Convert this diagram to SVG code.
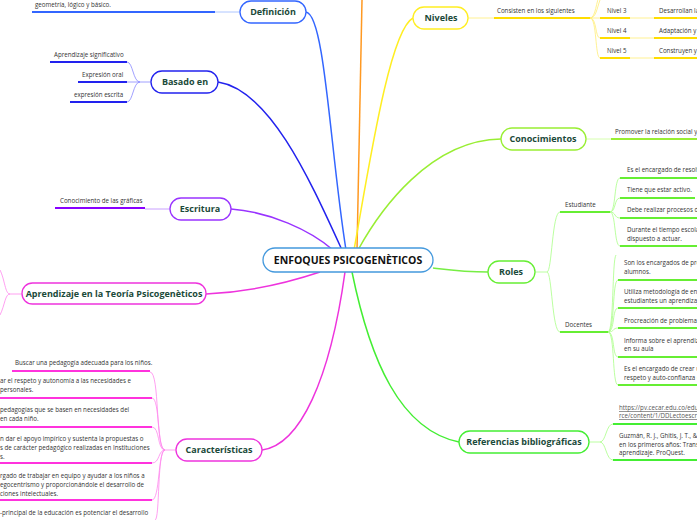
<svg xmlns="http://www.w3.org/2000/svg" width="697" height="520" viewBox="0 0 697 520">
<style>
text{font-family:"Open Sans","Noto Sans","Liberation Sans",sans-serif;fill:#333}
.t{font-size:6.2px}
.n{font-size:9px;font-weight:bold;fill:#1b4a3a;text-anchor:middle}
.b{fill:#fff;stroke-width:1.3}
.c{fill:none;stroke-width:1.5}
.th{fill:none;stroke-width:0.8}
.u{fill:none;stroke-width:2}
</style>
<rect width="697" height="520" fill="#fff"/>
<g id="connectors">
<path class="c" stroke="#ff9922" d="M357 250 C359 150 361 60 362 0"/>
<path class="c" stroke="#3366ff" d="M306 12 C325 15 330 150 346 250"/>
<path class="c" stroke="#2222ee" d="M218 82 C270 90 310 180 342 250"/>
<path class="c" stroke="#9933ff" d="M231 209 C270 212 310 230 333 250"/>
<path class="c" stroke="#ee33dd" d="M206 294 C250 292 290 282 320 272"/>
<path class="c" stroke="#ee33dd" d="M262 450 C300 445 330 380 345 272"/>
<path class="c" stroke="#ffee22" d="M413 18 C390 30 370 160 354 250"/>
<path class="c" stroke="#99ee33" d="M501 139 C430 140 380 210 358 250"/>
<path class="c" stroke="#77ee44" d="M488 272 C465 272 450 270 433 268"/>
<path class="c" stroke="#44ee33" d="M459 442 C400 430 370 360 352 272"/>
<path class="th" stroke="#99b8ff" d="M240 12 H215"/>
<path class="u" stroke="#3366ff" d="M215 12 H32"/>
<path class="th" stroke="#8888ff" d="M151 82 H140 M140 82 C133 82 133 62 127 62 M140 82 H127 M140 82 C133 82 133 102 127 102"/>
<path class="u" stroke="#2222ee" d="M127 62 H50 M127 82 H78 M127 102 H70"/>
<path class="th" stroke="#bb88ff" d="M170 209 H145"/>
<path class="u" stroke="#8800ff" d="M145 208 H55"/>
<path class="th" stroke="#ff88ee" d="M22 294 H10 C5 294 5 280 0 270 M10 294 C5 294 5 305 0 315"/>
<path class="th" stroke="#ff88ee" d="M176 450 H165 M165 450 C155 450 160 372 150 372 M165 450 C157 450 160 398 152 398 M165 450 C157 450 160 427 152 427 M165 450 C158 450 160 463 152 463 M165 450 C158 450 160 500 152 500 M165 450 C157 450 160 520 155 520"/>
<path class="u" stroke="#ff33dd" d="M150 371 H12 M152 398 H0 M152 427 H0 M152 463 H0 M152 500 H0"/>
<path class="th" stroke="#ffee77" d="M468 18 H494"/>
<path class="u" stroke="#ffdd00" d="M494 18 H590"/>
<path class="th" stroke="#ffee77" d="M590 18 C596 18 596 0 600 -5 M590 18 H600 M590 18 C597 18 595 38 600 38 M590 18 C597 18 595 58 600 58 M630 18 H654 M630 38 H654 M630 58 H654 M590 18 C596 18 597 8 600 0"/>
<path class="u" stroke="#ffdd00" d="M600 18 H630 M600 38 H630 M600 58 H630 M654 18 H697 M654 38 H697 M654 58 H697"/>
<path class="th" stroke="#ccff99" d="M586 139 H611"/>
<path class="u" stroke="#99ee33" d="M611 139 H697"/>
<path class="th" stroke="#aaff88" d="M535 272 H547 C552 272 552 212 560 212 M547 272 C552 272 552 332 560 332"/>
<path class="u" stroke="#66ee33" d="M560 212 H610 M560 332 H608"/>
<path class="th" stroke="#aaff88" d="M610 212 C616 212 614 178 620 178 M610 212 C616 212 614 198 620 198 M610 212 C616 212 614 218 620 218 M610 212 C616 212 614 246 620 246"/>
<path class="u" stroke="#66ee33" d="M620 178 H697 M620 198 H695 M620 218 H697 M620 246 H697"/>
<path class="th" stroke="#aaff88" d="M608 332 C615 332 612 280 618 280 M608 332 C615 332 612 308 618 308 M608 332 C615 332 612 328 618 328 M608 332 C615 332 612 357 618 357 M608 332 C615 332 612 385 618 385 M608 332 C614 332 612 260 616 255"/>
<path class="u" stroke="#66ee33" d="M618 280 H697 M618 308 H697 M618 328 H697 M618 357 H697 M618 385 H697"/>
<path class="th" stroke="#aaff88" d="M589 442 H600 C606 442 606 424 613 424 M600 442 C606 442 606 460 613 460"/>
<path class="u" stroke="#44ee33" d="M613 424 H697 M613 460 H697"/>
</g>
<g id="center"><rect class="b" x="263" y="248" width="170" height="24" rx="12" stroke="#4499dd"/><text class="n" x="348" y="264" style="font-size:10.5px;fill:#111">ENFOQUES PSICOGENÈTICOS</text></g>
<g id="definicion"><rect class="b" x="240" y="1" width="66" height="22" rx="11" stroke="#3366ff"/><text class="n" x="273" y="15">Definición</text><text class="t" x="35" y="7">geometría, lógico y básico.</text></g>
<g id="basado"><rect class="b" x="151" y="71" width="67" height="22" rx="11" stroke="#2222ee"/><text class="n" x="185" y="85">Basado en</text>
<text class="t" x="54" y="57">Aprendizaje significativo</text><text class="t" x="82" y="77">Expresión oral</text><text class="t" x="74" y="97">expresión escrita</text></g>
<g id="escritura"><rect class="b" x="170" y="198" width="61" height="22" rx="11" stroke="#9933ff"/><text class="n" x="200" y="212">Escritura</text><text class="t" x="60" y="203">Conocimiento de las gráficas</text></g>
<g id="aprendizaje"><rect class="b" x="22" y="283" width="184" height="21" rx="10.5" stroke="#ee33dd"/><text class="n" x="114" y="297">Aprendizaje en la Teoría Psicogenèticos</text></g>
<g id="caracteristicas"><rect class="b" x="176" y="439" width="86" height="22" rx="11" stroke="#ee33dd"/><text class="n" x="219" y="453">Características</text>
<text class="t" x="15" y="365">Buscar una pedagogía adecuada para los niños.</text>
<text class="t" x="0" y="383">ar el respeto y autonomía a las necesidades e</text><text class="t" x="0" y="392">personales.</text>
<text class="t" x="0" y="412">pedagogías que se basen en necesidades del</text><text class="t" x="0" y="421">en cada niño.</text>
<text class="t" x="0" y="441">n dar el apoyo impírico y sustenta la propuestas  o</text><text class="t" x="0" y="450">s de carácter pedagógico realizadas  en Instituciones</text><text class="t" x="0" y="459">s.</text>
<text class="t" x="0" y="478">rgado de trabajar en equipo y ayudar a los niños a</text><text class="t" x="0" y="487"> egocentrismo y proporcionándole el desarrollo  de</text><text class="t" x="0" y="496">ciones intelectuales.</text>
<text class="t" x="0" y="515">-principal de la educación es potenciar el desarrollo</text></g>
<g id="niveles"><rect class="b" x="413" y="7" width="55" height="22" rx="11" stroke="#ffee22"/><text class="n" x="441" y="21">Niveles</text>
<text class="t" x="497" y="13">Consisten en los siguientes</text>
<text class="t" x="607" y="13">Nivel 3</text><text class="t" x="659" y="13">Desarrollan la</text>
<text class="t" x="607" y="33">Nivel 4</text><text class="t" x="659" y="33">Adaptación y</text>
<text class="t" x="607" y="53">Nivel 5</text><text class="t" x="659" y="53">Construyen y</text></g>
<g id="conocimientos"><rect class="b" x="501" y="128" width="85" height="22" rx="11" stroke="#99ee33"/><text class="n" x="543" y="142">Conocimientos</text><text class="t" x="615" y="134">Promover la relación social y</text></g>
<g id="roles"><rect class="b" x="488" y="261" width="47" height="22" rx="11" stroke="#66ee33"/><text class="n" x="511" y="275">Roles</text>
<text class="t" x="565" y="207">Estudiante</text><text class="t" x="565" y="327">Docentes</text>
<text class="t" x="627" y="172">Es el encargado de resolv</text><text class="t" x="627" y="192">Tiene que estar activo.</text><text class="t" x="627" y="212">Debe realizar procesos d</text><text class="t" x="627" y="232">Durante el tiempo escola</text><text class="t" x="627" y="241">dispuesto a actuar.</text>
<text class="t" x="624" y="265">Son los encargados de pro</text><text class="t" x="624" y="274">alumnos.</text>
<text class="t" x="624" y="294">Utiliza metodología de ens</text><text class="t" x="624" y="303">estudiantes un aprendizaje</text>
<text class="t" x="624" y="323">Procreación de problemas</text>
<text class="t" x="624" y="343">Informa sobre el aprendiz</text><text class="t" x="624" y="351">en su aula</text>
<text class="t" x="624" y="371">Es el encargado de crear u</text><text class="t" x="624" y="380">respeto y auto-confianza e</text></g>
<g id="referencias"><rect class="b" x="459" y="431" width="130" height="22" rx="11" stroke="#44ee33"/><text class="n" x="524" y="445">Referencias bibliográficas</text>
<text class="t" x="619" y="410" style="text-decoration:underline;fill:#555">https://pv.cecar.edu.co/edup</text><text class="t" x="619" y="418" style="text-decoration:underline;fill:#555">rce/content/1/DDLectoescrit</text>
<text class="t" x="619" y="438">Guzmán, R. J., Ghitis, J. T., &amp; F</text><text class="t" x="619" y="447">en los primeros años: Transi</text><text class="t" x="619" y="455">aprendizaje. ProQuest.</text></g>
</svg>
